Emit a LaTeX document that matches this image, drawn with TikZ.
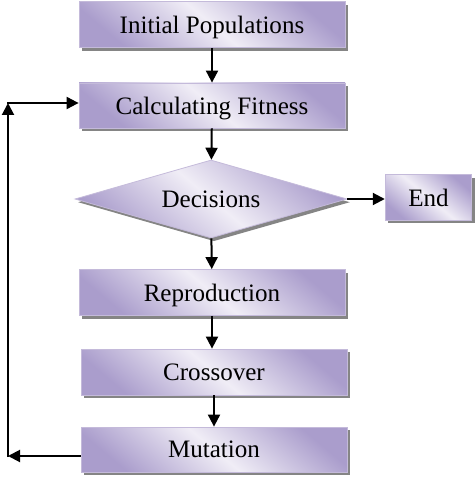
\documentclass[tikz,border=0pt]{standalone}
\usepackage{fontspec}
\setmainfont{Liberation Serif}
\usetikzlibrary{shapes.geometric,arrows.meta,shadows}
\definecolor{pdark}{RGB}{170,157,204}
\definecolor{plight}{RGB}{240,237,246}
\definecolor{pedge}{RGB}{196,186,218}
\tikzset{
  boxbase/.style={draw=pedge, line width=0.6pt,
    top color=pdark, bottom color=pdark, middle color=plight, shading angle=-40,
    drop shadow={shadow xshift=2.2pt, shadow yshift=-2.4pt, fill=black!60, opacity=0.8},
    font=\fontsize{18.8pt}{20pt}\selectfont, inner sep=0pt, text depth=0pt},
  stepbox/.style={boxbase, rectangle, minimum width=199.5pt, minimum height=34.5pt},
  endbox/.style={boxbase, rectangle, minimum width=65pt, minimum height=34pt},
  decbox/.style={boxbase, diamond, shape aspect=3.5, minimum width=204pt, minimum height=58.5pt},
  arr/.style={line width=1.5pt, -{Triangle[length=9pt,width=9pt]}}
}
\begin{document}
\begin{tikzpicture}[x=0.75pt,y=-0.75pt]
\useasboundingbox (0,0) rectangle (474,477);
\node[stepbox] (ip) at (212,24.5) {Initial Populations};
\node[stepbox, minimum height=33.75pt] (cf) at (212,105.5) {Calculating Fitness};
\node[decbox] (dec) at (211,199) {Decisions};
\node[endbox] (end) at (428.5,197.5) {End};
\node[stepbox] (rep) at (212,292.5) {Reproduction};
\node[stepbox] (cro) at (214,372) {Crossover};
\node[stepbox, minimum height=33.75pt] (mut) at (214,449.5) {Mutation};
\coordinate (bl) at (8,456);
\coordinate (tl) at (8,103);
\draw[arr] (ip) -- (cf);
\draw[arr] (cf) -- (dec);
\draw[arr] (dec) -- (rep);
\draw[arr] (rep.south) -- (rep.south |- cro.north);
\draw[arr] (cro) -- (mut);
\draw[arr] (dec.east) -- (end.west |- dec.east);
\draw[arr] (mut.west |- bl) -- (bl);
\draw[arr, shorten <=-0.75pt] (bl) -- (tl);
\draw[arr, shorten <=-0.75pt] (tl) -- (cf.west |- tl);
\end{tikzpicture}
\end{document}
